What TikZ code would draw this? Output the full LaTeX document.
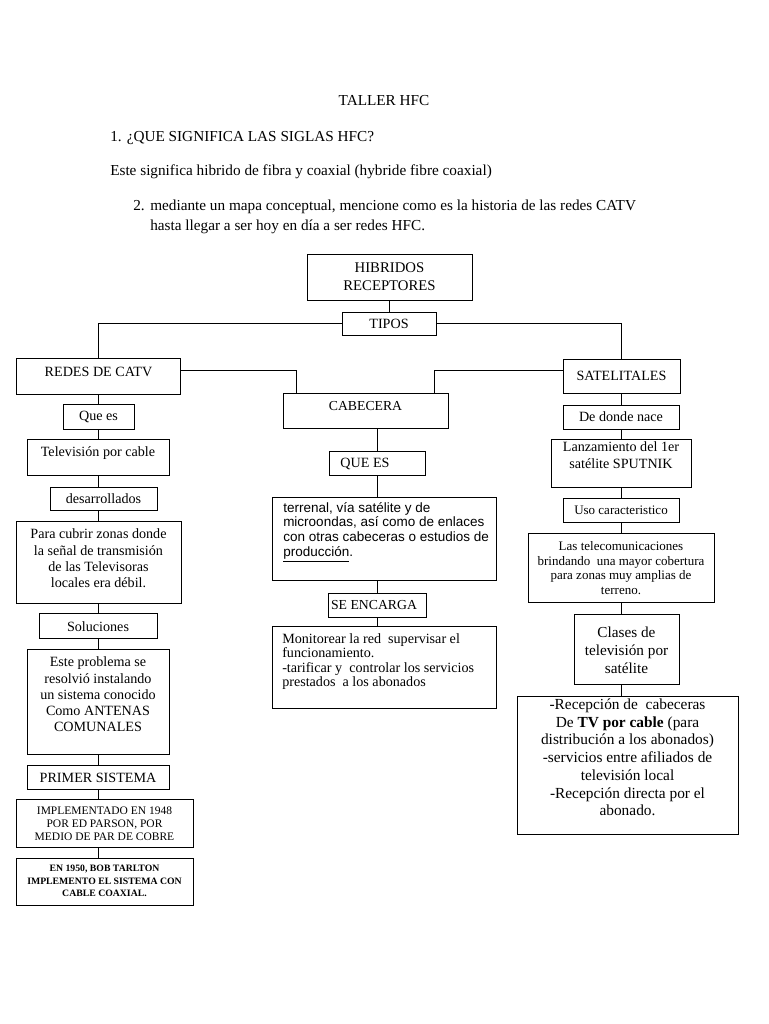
\documentclass[tikz,border=0pt]{standalone}
\usepackage{fontspec}
\setmainfont{Liberation Serif}
\newfontfamily\arialf{Liberation Sans}
\newcommand\mybox[5]{\node[box, bx={(#4)-(#2)}{(#5)-(#3)}] (#1) at ({((#2)+(#4))/2},{((#3)+(#5))/2}) {};}
\begin{document}
\begin{tikzpicture}[x=0.8pt,y=-0.8pt,
  box/.style={draw=black, line width=0.8pt, inner sep=0pt},
  bx/.style 2 args={minimum width={(#1)*0.8pt}, minimum height={(#2)*0.8pt}},
  lbl/.style={inner sep=0pt, align=center, font=\fontsize{11.3}{13}\selectfont},
  ltxt/.style={inner sep=0pt, anchor=north west, align=left},
  conn/.style={draw=black, line width=0.8pt},
  toptxt/.style={inner sep=0pt, anchor=base west, font=\fontsize{12.2}{14}\selectfont}
]
\useasboundingbox (0,0) rectangle (768,1024);
\fill[white] (0,0) rectangle (768,1024);

% top text
\node[toptxt, anchor=base] (title) at (384,106) {TALLER HFC};
\node[toptxt] (q1) at (110,142) {1. ¿QUE SIGNIFICA LAS SIGLAS HFC?};
\node[toptxt] (ans) at (110,176) {Este significa hibrido de fibra y coaxial (hybride fibre coaxial)};
\node[toptxt] (n2) at (133,211) {2.};
\node[toptxt] (q2a) at (150,211) {mediante un mapa conceptual, mencione como es la historia de las redes CATV};
\node[toptxt] (q2b) at (150,230) {hasta llegar a ser hoy en día a ser redes HFC.};

% boxes
\mybox{hib}{307}{254}{472}{300}
\mybox{tipos}{342}{312}{436}{335}
\mybox{redes}{16}{358}{180}{394}
\mybox{sat}{563}{359}{680}{393}
\mybox{cab}{283}{393}{448}{428}
% left
\mybox{queesL}{63}{404}{134}{429}
\mybox{tele}{27}{439}{169}{475}
\mybox{desa}{50}{487}{157}{510}
\mybox{para}{16}{521}{181}{603}
\mybox{solu}{39}{613}{157}{638}
\mybox{este}{27}{649}{169}{754}
\mybox{prim}{27}{765}{169}{789}
\mybox{impl}{16}{799}{193}{847}
\mybox{enc}{16}{858}{193}{905}
% middle
\mybox{queesM}{329}{451}{425}{475}
\mybox{terr}{272}{497}{496}{580}
\mybox{seen}{328}{593}{426}{617}
\mybox{moni}{272}{626}{496}{708}
% right
\mybox{dond}{563}{405}{679}{429}
\mybox{lanz}{551}{439}{691}{487}
\mybox{uso}{563}{498}{679}{522}
\mybox{telr}{528}{533}{714}{602}
\mybox{clas}{574}{614}{679}{684}
\mybox{rece}{517}{696}{738}{834}

% connectors
\coordinate (cL) at (98,0);
\coordinate (cM) at (377,0);
\coordinate (cR) at (621,0);
\coordinate (jL) at (296,370);
\coordinate (jR) at (434,370);
\draw[conn] (hib.south) -- (hib.south |- tipos.north);
\draw[conn] (tipos.west) -| (cL |- redes.north);
\draw[conn] (tipos.east) -| (cR |- sat.north);
\draw[conn] (redes.east |- jL) -- (jL) -- (jL |- cab.north);
\draw[conn] (sat.west |- jR) -- (jR) -- (jR |- cab.north);
\foreach \a/\b in {redes/queesL, queesL/tele, tele/desa, desa/para, para/solu, solu/este, este/prim, prim/impl, impl/enc}
  \draw[conn] (cL |- \a.south) -- (cL |- \b.north);
\foreach \a/\b in {cab/queesM, queesM/terr, terr/seen, seen/moni}
  \draw[conn] (cM |- \a.south) -- (cM |- \b.north);
\foreach \a/\b in {sat/dond, dond/lanz, lanz/uso, uso/telr, telr/clas, clas/rece}
  \draw[conn] (cR |- \a.south) -- (cR |- \b.north);

% labels
\node[lbl, font=\fontsize{11.8}{14.4}\selectfont] (hibT) at (389.5,277) {HIBRIDOS\\RECEPTORES};
\node[lbl] (tiposT) at (389,323.5) {TIPOS};
\node[lbl] (redesT) at (98.5,372) {REDES DE CATV};
\node[lbl] (satT) at (621.5,376) {SATELITALES};
\node[lbl, font=\fontsize{11}{13}\selectfont] (cabT) at (365.5,406) {CABECERA};
\node[lbl] (queesLT) at (98.5,417) {Que es};
\node[lbl] (teleT) at (98,453) {Televisión por cable};
\node[lbl] (desaT) at (103.5,499) {desarrollados};
\node[lbl] (paraT) at (98.5,558.5) {Para cubrir zonas donde\\la señal de transmisión\\de las Televisoras\\locales era débil.};
\node[lbl] (soluT) at (98,627) {Soluciones};
\node[lbl] (esteT) at (98,694.5) {Este problema se\\resolvió instalando\\un sistema conocido\\Como ANTENAS\\COMUNALES};
\node[lbl] (primT) at (98,778) {PRIMER SISTEMA};
\node[lbl, font=\fontsize{9.2}{10.4}\selectfont] (implT) at (104.5,824) {IMPLEMENTADO EN 1948\\POR ED PARSON, POR\\MEDIO DE PAR DE COBRE};
\node[lbl, font=\bfseries\fontsize{7.8}{10}\selectfont] (encT) at (104.5,881) {EN 1950, BOB TARLTON\\IMPLEMENTO EL SISTEMA CON\\CABLE COAXIAL.};
\node[lbl] (queesMT) at (365,464) {QUE ES};
\node[ltxt, font=\arialf\fontsize{10.8}{11.8}\selectfont] (terrT) at (283,502) {terrenal, vía satélite y de\\microondas, así como de enlaces\\con otras cabeceras o estudios de\\\underline{producción}.};
\node[lbl, font=\fontsize{11}{13}\selectfont] (seenT) at (374,605) {SE ENCARGA};
\node[ltxt, font=\fontsize{11.3}{11.5}\selectfont] (moniT) at (282,633.5) {Monitorear la red\ \ supervisar el\\funcionamiento.\\-tarificar y\ \ controlar los servicios\\prestados\ \ a los abonados};
\node[lbl] (dondT) at (621,417) {De donde nace};
\node[lbl, font=\fontsize{11.3}{13.6}\selectfont] (lanzT) at (621,455.5) {Lanzamiento del 1er\\satélite SPUTNIK};
\node[lbl, font=\fontsize{10.4}{12}\selectfont] (usoT) at (621,510) {Uso caracteristico};
\node[lbl, font=\fontsize{10.4}{11.8}\selectfont] (telrT) at (621,568) {Las telecomunicaciones\\brindando\ \ una mayor cobertura\\para zonas muy amplias de\\terreno.};
\node[lbl, font=\fontsize{12.2}{14.4}\selectfont] (clasT) at (626.5,650) {Clases de\\televisión por\\satélite};
\node[lbl, font=\fontsize{12.3}{14.2}\selectfont] (receT) at (627.5,757.5) {-Recepción de\ \ cabeceras\\De \textbf{TV por cable} (para\\distribución a los abonados)\\-servicios entre afiliados de\\televisión local\\-Recepción directa por el\\abonado.};
\end{tikzpicture}
\end{document}
